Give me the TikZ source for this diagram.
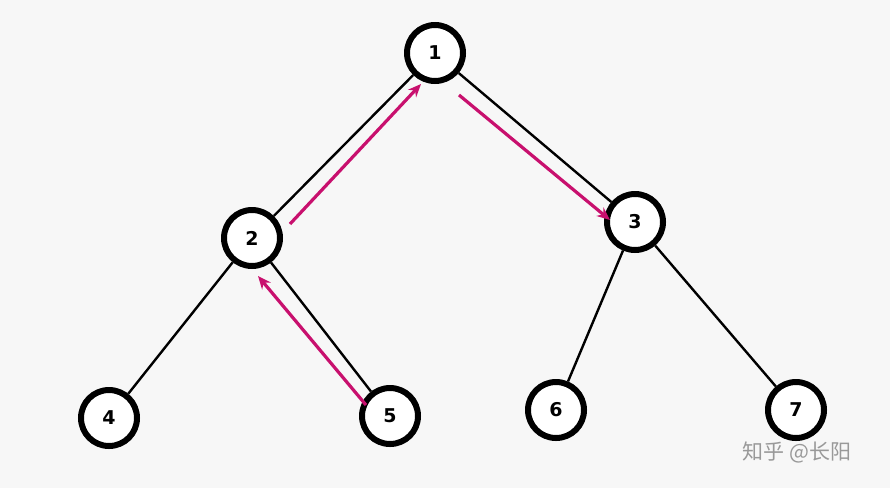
\documentclass[tikz,border=0pt]{standalone}
\usepackage{fontspec}
\setmainfont{DejaVu Sans}
\newfontfamily\cjk{Noto Sans CJK SC}
\usetikzlibrary{arrows.meta}
\definecolor{mag}{HTML}{C8106E}
\begin{document}
\begin{tikzpicture}[x=1pt,y=-1pt,
  tn/.style={circle,draw=black,line width=6pt,fill=white,minimum size=56pt,inner sep=0pt,font=\bfseries\fontsize{19}{19}\selectfont},
  edge/.style={line width=2.4pt},
  hop/.style={mag,line width=3.2pt,-{Stealth[length=13pt,width=11pt]}}]
\fill[gray!6] (0,0) rectangle (890,488);
\useasboundingbox (0,0) rectangle (890,488);
\node[tn] (n1) at (435,53) {1};
\node[tn] (n2) at (252,238) {2};
\node[tn] (n3) at (635,222) {3};
\node[tn] (n4) at (109,418) {4};
\node[tn] (n5) at (390,416) {5};
\node[tn] (n6) at (556,410) {6};
\node[tn] (n7) at (796,410) {7};
\draw[edge] (n1) -- (n2);
\draw[edge] (n1) -- (n3);
\draw[edge] (n2) -- (n4);
\draw[edge] (n2) -- (n5);
\draw[edge] (n3) -- (n6);
\draw[edge] (n3) -- (n7);
\coordinate (a1) at (290,224); \coordinate (b1) at (421,84);
\coordinate (a2) at (459,95); \coordinate (b2) at (610,220);
\coordinate (a3) at (366,405); \coordinate (b3) at (258,276);
\draw[hop] (a1) -- (b1);
\draw[hop] (a2) -- (b2);
\draw[hop] (a3) -- (b3);
\node[font=\cjk\fontsize{21}{21}\selectfont,text=gray!80,inner sep=0pt] (wm) at (797,452) {知乎 @长阳};
\end{tikzpicture}
\end{document}
